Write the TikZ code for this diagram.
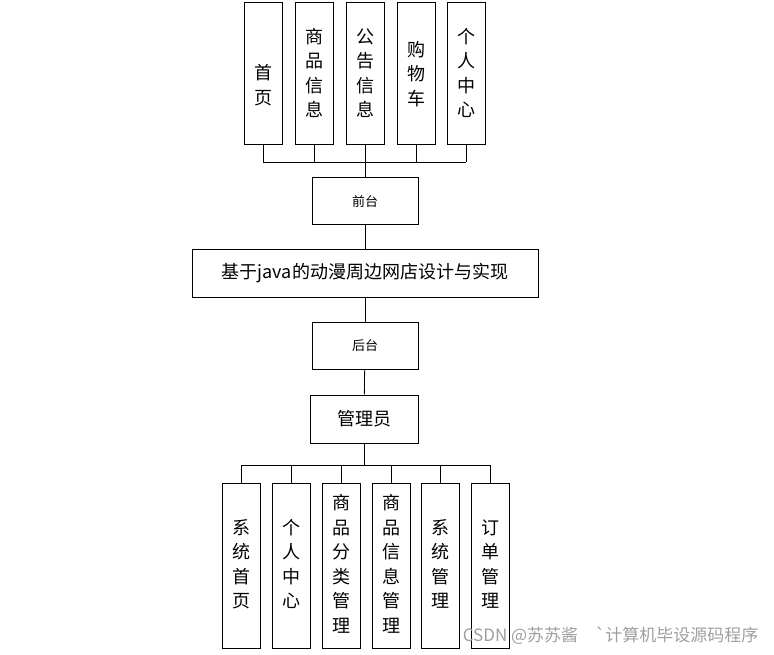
\documentclass[tikz,border=0pt]{standalone}
\usepackage{fontspec}
\newfontfamily\cjk{Noto Sans CJK SC}
\begin{document}
\begin{tikzpicture}[x=1pt,y=-1pt,
  box/.style={draw,line width=1pt,inner sep=0pt},
  vt/.style={font=\cjk\fontsize{18}{24.5}\selectfont,align=center},
  ln/.style={line width=0.8pt}]
\useasboundingbox (0,0) rectangle (774,655);
% top boxes
\foreach \x/\t/\y [count=\i] in {263/{首\\页}/85,314/{商\\品\\信\\息}/73,365/{公\\告\\信\\息}/73,416/{购\\物\\车}/74,466/{个\\人\\中\\心}/73}{
  \node[box,minimum width=38pt,minimum height=142pt] (t\i) at (\x,74) {};
  \node[vt] at (\x,\y) {\t};
}
\node[box,minimum width=106pt,minimum height=47pt,font=\cjk\fontsize{13}{15}\selectfont] (qt) at (365,201.5) {前台};
\node[box,minimum width=346pt,minimum height=47pt,font=\cjk\fontsize{18}{20}\selectfont] (main) at (365,273.5) {基于java的动漫周边网店设计与实现};
\node[box,minimum width=106pt,minimum height=47pt,font=\cjk\fontsize{13}{15}\selectfont] (ht) at (365,345.5) {后台};
\node[box,minimum width=108pt,minimum height=48pt,font=\cjk\fontsize{18}{20}\selectfont] (gly) at (364,419) {管理员};
% bottom boxes
\foreach \x/\t [count=\i] in {241/{系\\统\\首\\页},291/{个\\人\\中\\心},341/{商\\品\\分\\类\\管\\理},391/{商\\品\\信\\息\\管\\理},440/{系\\统\\管\\理},490/{订\\单\\管\\理}}{
  \node[box,minimum width=38pt,minimum height=165pt] (b\i) at (\x,565.5) {};
  \node[vt] at (\x,564) {\t};
}
% top bus
\coordinate (tbus) at (365,162);
\foreach \i in {1,...,5} \draw[ln] (t\i.south) -- (t\i.south |- tbus);
\draw[ln] (t1.south |- tbus) -- (t5.south |- tbus);
\draw[ln] (t3.south) -- (qt.north);
\draw[ln] (qt) -- (main);
\draw[ln] (main) -- (ht);
\draw[ln] (ht) -- (gly);
\coordinate (bbus) at (365,465);
\draw[ln] (gly.south) -- (gly.south |- bbus);
\draw[ln] (b1.north |- bbus) -- (b6.north |- bbus);
\foreach \i in {1,...,6} \draw[ln] (b\i.north |- bbus) -- (b\i.north);
\node[anchor=east,text=gray!75,font=\cjk\fontsize{17}{19}\selectfont] (wm) at (762,636) {CSDN @苏苏酱\quad `计算机毕设源码程序};
\end{tikzpicture}
\end{document}
